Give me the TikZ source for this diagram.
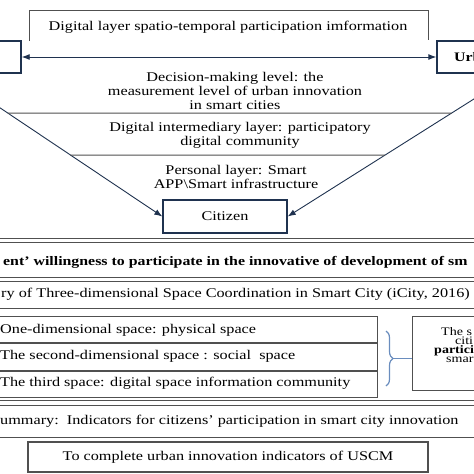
\documentclass[tikz,border=0pt]{standalone}
\usepackage{fontspec}
\setmainfont{Liberation Serif}[FakeStretch=1.22]
\usepackage{tikz}
\usetikzlibrary{positioning}
\usetikzlibrary{arrows.meta}
\usetikzlibrary{decorations.pathreplacing}
\definecolor{navyline}{HTML}{1F324F}
\definecolor{ruleline}{HTML}{505050}
\definecolor{bracecol}{HTML}{6A8DBE}
\tikzset{>={Latex[length=8pt,width=6pt]}}
\tikzset{
  txt/.style={font=\fontsize{13.3}{13.8}\selectfont, inner sep=0pt, align=center},
  boldtxt/.style={txt, font=\fontsize{13}{13.8}\selectfont\bfseries},
  smalltxt/.style={font=\fontsize{11.5}{9}\selectfont, inner sep=0pt, anchor=west},
  actorbox/.style={draw=navyline, line width=1.4pt, inner sep=0pt},
  rowbox/.style={draw=ruleline, line width=1pt, inner sep=0pt},
  layerline/.style={ruleline, line width=1pt},
}

\begin{document}
\begin{tikzpicture}[x=1pt,y=-1pt]
		\useasboundingbox (0,0) rectangle (474,474);
		\clip (0,0) rectangle (474,474);
		\node[actorbox, minimum width=144pt, minimum height=32pt] (gov) at (-51,57) {};
		\node[actorbox, minimum width=154pt, minimum height=32pt] (urb) at (514,57) {};
		\node[boldtxt, anchor=west] (urbtxt) at (454,57) {Urb};
		\node[actorbox, txt, minimum width=124pt, minimum height=33pt] (citizen) at (225,216.5) {Citizen};
		\draw[layerline] (29,41) -- (29,10) -- (428,10) -- (428,40);
		\node[txt] (spatial) at (228,27) {Digital layer spatio-temporal participation imformation};
		\node[txt] (decision) at (235,91) {Decision-making level: the\\measurement level of urban innovation\\in smart cities};
		\node[txt] (community) at (240,135) {Digital intermediary layer: participatory\\digital community};
		\node[txt] (personal) at (236,177) {Personal layer: Smart\\APP\textbackslash Smart infrastructure};
		\coordinate (h1) at (0,113);  \coordinate (h1r) at (474,113);
		\coordinate (h2) at (0,155);  \coordinate (h2r) at (474,155);
		\begin{scope}[navyline, line width=0.9pt]
		  \draw[<->] (gov.east) -- (urb.west);
		  \draw[->]  (gov.south) -- (citizen.west);
		  \draw[->]  (urb.south) -- (citizen.east);
		\end{scope}
		\draw[layerline] (intersection of gov.south--citizen.west and h1--h1r) -- (intersection of urb.south--citizen.east and h1--h1r);
		\draw[layerline] (intersection of gov.south--citizen.west and h2--h2r) -- (intersection of urb.south--citizen.east and h2--h2r);
		\draw[layerline] (-5,238) -- (480,238);
		\node[rowbox, minimum width=490pt, minimum height=35pt] (willrow) at (237,259.5) {};
		\node[boldtxt, anchor=west] (will) at (3,262) {ent’ willingness to participate in the innovative of development of sm};
		\node[rowbox, minimum width=490pt, minimum height=27pt] (theoryrow) at (237,294.5) {};
		\node[txt, anchor=west] (theory) at (1,294) {ry of Three-dimensional Space Coordination in Smart City (iCity, 2016)};
		\node[rowbox, minimum width=387pt, minimum height=26pt] (space1) at (183.5,329) {};
		\node[rowbox, minimum width=387pt, minimum height=27pt, below=0pt of space1] (space2) {};
		\node[rowbox, minimum width=387pt, minimum height=26pt, below=0pt of space2] (space3) {};
		\node[txt, anchor=west] (space1txt) at (0,330) {One-dimensional space: physical space};
		\node[txt, anchor=west] (space2txt) at (0,356) {The second-dimensional space : social\ \ space};
		\node[txt, anchor=west] (space3txt) at (0,383) {The third space: digital space information community};
		\node[rowbox, minimum width=148pt, minimum height=74pt] (status) at (486,353) {};
		\node[smalltxt] (status1) at (441,331.5) {The s};
		\node[smalltxt] (status2) at (455,341) {citi};
		\node[smalltxt, font=\fontsize{11.5}{9}\selectfont\bfseries] (status3) at (434,350.5) {partici};
		\node[smalltxt] (status4) at (446,360) {smar};
		\draw[bracecol, line width=1.2pt, decorate, decoration={brace, amplitude=7pt}] (386,331) -- (386,386) coordinate[midway, xshift=7pt] (tip);
		\draw[bracecol, line width=1.2pt] (tip) -- (status.west |- tip);
		\draw[layerline] (-5,400) -- (480,400);
		\node[rowbox, minimum width=490pt, minimum height=32pt] (sumrow) at (237,421) {};
		\node[txt, anchor=west] (summary) at (0,421) {ummary:\ \ Indicators for citizens’ participation in smart city innovation};
		\node[rowbox, txt, line width=1.6pt, minimum width=400pt, minimum height=30pt] (uscm) at (228,457) {To complete urban innovation indicators of USCM};
\end{tikzpicture}
\end{document}
